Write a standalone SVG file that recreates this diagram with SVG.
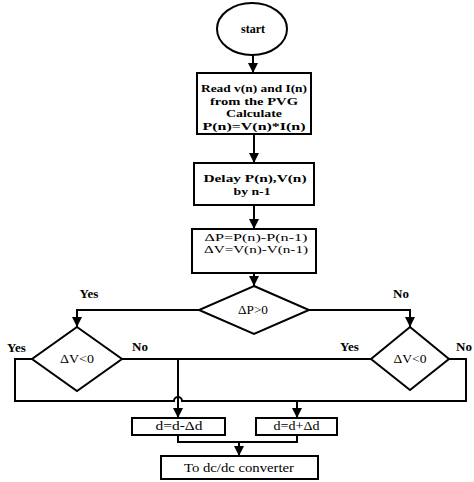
<svg xmlns="http://www.w3.org/2000/svg" width="474" height="482" viewBox="0 0 474 482">
<style>
.s{fill:#fff;stroke:#000;stroke-width:2}
.c{fill:none;stroke:#000;stroke-width:2}
text{font-family:"Liberation Serif","Times New Roman",serif;font-size:12px;fill:#000;text-anchor:middle}
.b{font-weight:bold}
.m{font-size:11px}
.l{font-size:13px}
</style>
<defs>
<marker id="ah" markerUnits="userSpaceOnUse" markerWidth="10" markerHeight="10" refX="10" refY="5" orient="auto">
<path d="M0,0 L10,5 L0,10 z" fill="#000"/>
</marker>
</defs>
<rect width="474" height="482" fill="#fff"/>
<g id="connectors" class="c">
<path d="M253,55 V73" marker-end="url(#ah)"/>
<path d="M254,134 V163" marker-end="url(#ah)"/>
<path d="M254,205 V229" marker-end="url(#ah)"/>
<path d="M254,273 V286" marker-end="url(#ah)"/>
<path d="M199,310 H77 V327" marker-end="url(#ah)"/>
<path d="M309,310 H410 V327" marker-end="url(#ah)"/>
<path d="M122,359 H371"/>
<path d="M178,359 V418" marker-end="url(#ah)"/>
<path d="M32,359 H15 V401 H174 A4,4 0 0 1 182,401 H466 V359 H449"/>
<path d="M297,401 V418" marker-end="url(#ah)"/>
<path d="M178,435 V442 H297 V435"/>
<path d="M239,442 V456" marker-end="url(#ah)"/>
</g>
<g id="start">
<ellipse class="s" cx="252" cy="29" rx="35" ry="26"/>
<text class="b l" x="253" y="33" textLength="24" lengthAdjust="spacingAndGlyphs">start</text>
</g>
<g id="read">
<rect class="s" x="197" y="73" width="114" height="61"/>
<text class="b m" x="254" y="92" textLength="106" lengthAdjust="spacingAndGlyphs">Read v(n) and I(n)</text>
<text class="b m" x="254" y="104.5" textLength="88" lengthAdjust="spacingAndGlyphs">from the PVG</text>
<text class="b m" x="254" y="117" textLength="56" lengthAdjust="spacingAndGlyphs">Calculate</text>
<text class="b m" x="254" y="129.5" textLength="103" lengthAdjust="spacingAndGlyphs">P(n)=V(n)*I(n)</text>
</g>
<g id="delay">
<rect class="s" x="194" y="163" width="120" height="42"/>
<text class="b m" x="255" y="181.5" textLength="103" lengthAdjust="spacingAndGlyphs">Delay P(n),V(n)</text>
<text class="b m" x="252" y="194.5" textLength="37" lengthAdjust="spacingAndGlyphs">by n-1</text>
</g>
<g id="delta">
<rect class="s" x="192" y="229" width="124" height="44"/>
<text class="m" x="256" y="240.5" textLength="103" lengthAdjust="spacingAndGlyphs">ΔP=P(n)-P(n-1)</text>
<text class="m" x="256" y="253" textLength="104" lengthAdjust="spacingAndGlyphs">ΔV=V(n)-V(n-1)</text>
</g>
<g id="dp">
<polygon class="s" points="254,286 309,310 254,334 199,310"/>
<text x="253" y="313.5" textLength="30" lengthAdjust="spacingAndGlyphs">ΔP&gt;0</text>
<text class="b l" x="89" y="298">Yes</text>
<text class="b l" x="401" y="298">No</text>
</g>
<g id="dvl">
<polygon class="s" points="77,327 122,359 77,391 32,359"/>
<text x="77" y="363" textLength="34" lengthAdjust="spacingAndGlyphs">ΔV&lt;0</text>
<text class="b l" x="16.5" y="351.5">Yes</text>
<text class="b l" x="140" y="351">No</text>
</g>
<g id="dvr">
<polygon class="s" points="410,327 449,359 410,390 371,359"/>
<text x="410" y="363" textLength="33" lengthAdjust="spacingAndGlyphs">ΔV&lt;0</text>
<text class="b l" x="349.5" y="351">Yes</text>
<text class="b l" x="464" y="351">No</text>
</g>
<g id="dec">
<rect class="s" x="132" y="418" width="93" height="17"/>
<text x="179" y="430" textLength="47" lengthAdjust="spacingAndGlyphs">d=d-Δd</text>
</g>
<g id="inc">
<rect class="s" x="256" y="418" width="81" height="17"/>
<text x="296.5" y="430" textLength="46" lengthAdjust="spacingAndGlyphs">d=d+Δd</text>
</g>
<g id="out">
<rect class="s" x="161" y="456" width="157" height="23"/>
<text x="239" y="472" textLength="110" lengthAdjust="spacingAndGlyphs">To dc/dc converter</text>
</g>
</svg>
